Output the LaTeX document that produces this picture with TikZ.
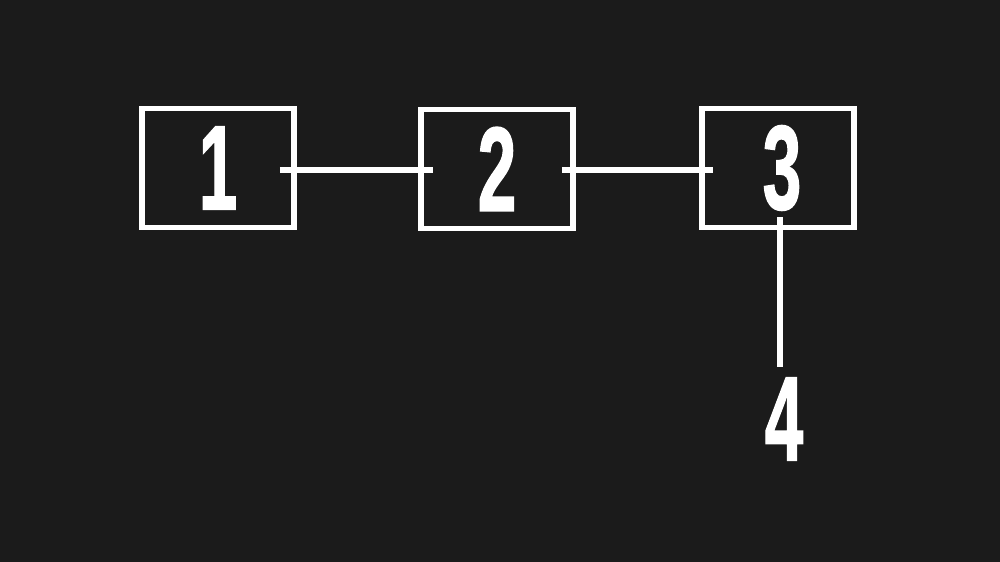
\documentclass[tikz,border=0pt]{standalone}
\usepackage{fontspec}
\setmainfont{Liberation Sans}
\newfontfamily\digitfont[FakeBold=1.5]{Liberation Sans Bold}
\definecolor{bgc}{HTML}{1B1B1B}
\tikzset{
  box/.style={draw=white, line width=1.6pt, minimum width=1.52cm, minimum height=1.19cm, inner sep=0pt},
  digit/.style={text=white, inner sep=0pt, font=\fontsize{34}{34}\selectfont\digitfont},
  link/.style={draw=white, line width=1.5pt}
}
\newcommand{\dg}[1]{\scalebox{0.58}[1.0]{#1}}
\begin{document}
\begin{tikzpicture}[x=0.01cm,y=-0.01cm]
\fill[bgc] (0,0) rectangle (1000,562);
\useasboundingbox (0,0) rectangle (1000,562);
\node[box, digit] (b1) at (218,168) {\dg{1}};
\node[box, digit] (b2) at (497,169) {\dg{2}};
\node[box, digit] (b3) at (778,168) {\hspace{0.08cm}\dg{3}};
\node[digit] (n4) at (784,419) {\dg{4}};
\draw[link] ([xshift=-0.17cm,yshift=-0.02cm]b1.east) -- ([xshift=0.15cm,yshift=-0.02cm]b1.east -| b2.west);
\draw[link] ([xshift=-0.14cm,yshift=-0.01cm]b2.east) -- ([xshift=0.14cm,yshift=-0.01cm]b2.east -| b3.west);
\draw[link] ([xshift=0.02cm,yshift=0.13cm]b3.south) -- ([xshift=0.02cm,yshift=0.1cm]b3.south |- n4.north);
\end{tikzpicture}
\end{document}
